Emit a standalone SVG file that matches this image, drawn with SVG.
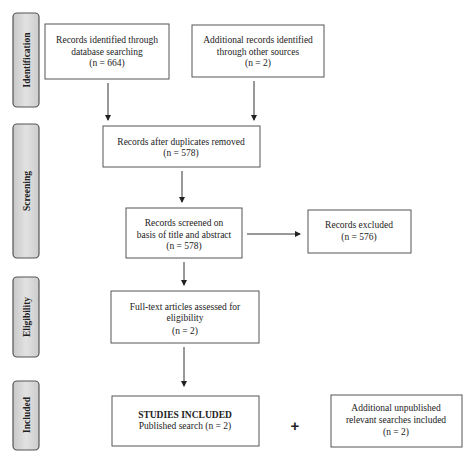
<svg xmlns="http://www.w3.org/2000/svg" width="474" height="467" viewBox="0 0 474 467">
<defs>
<marker id="ah" markerWidth="6" markerHeight="6" refX="5" refY="3" orient="auto" markerUnits="userSpaceOnUse">
<path d="M0,0 L6,3 L0,6 Z" fill="#222"/>
</marker>
<linearGradient id="lg" x1="0" y1="0" x2="1" y2="0">
<stop offset="0" stop-color="#c8c8c8"/>
<stop offset="0.5" stop-color="#e2e2e2"/>
<stop offset="1" stop-color="#cccccc"/>
</linearGradient>
</defs>
<style>
.box{fill:#fff;stroke:#555;stroke-width:1}
.lab{fill:url(#lg);stroke:#555;stroke-width:1.2}
.t{font-family:"Liberation Serif",serif;font-size:9.5px;fill:#222;text-anchor:middle}
.b{font-weight:bold}
.lt{font-family:"Liberation Serif",serif;font-size:9.5px;font-weight:bold;fill:#222;text-anchor:middle}
.c{stroke:#333;stroke-width:1;fill:none;marker-end:url(#ah)}
</style>
<rect width="474" height="467" fill="#fff"/>
<g id="lab-identification"><rect class="lab" x="13" y="13" width="26" height="94" rx="4"/><text class="lt" transform="translate(29.5,60) rotate(-90)">Identification</text></g>
<g id="lab-screening"><rect class="lab" x="13" y="124" width="26" height="134" rx="4"/><text class="lt" transform="translate(29.5,191) rotate(-90)">Screening</text></g>
<g id="lab-eligibility"><rect class="lab" x="13" y="277" width="26" height="80" rx="4"/><text class="lt" transform="translate(29.5,317) rotate(-90)">Eligibility</text></g>
<g id="lab-included"><rect class="lab" x="13" y="381" width="26" height="69" rx="4"/><text class="lt" transform="translate(29.5,415) rotate(-90)">Included</text></g>
<g id="n1"><rect class="box" x="45" y="24" width="124" height="55"/><text class="t" x="107" y="43">Records identified through</text><text class="t" x="107" y="55">database searching</text><text class="t" x="107" y="66">(n = 664)</text></g>
<g id="n2"><rect class="box" x="192" y="25" width="132" height="52"/><text class="t" x="258" y="43">Additional records identified</text><text class="t" x="258" y="55">through other sources</text><text class="t" x="258" y="66">(n = 2)</text></g>
<g id="n3"><rect class="box" x="103" y="126" width="157" height="41"/><text class="t" x="181" y="145">Records after duplicates removed</text><text class="t" x="181" y="156">(n = 578)</text></g>
<g id="n4"><rect class="box" x="126" y="208" width="116" height="50"/><text class="t" x="184" y="226">Records screened on</text><text class="t" x="184" y="238">basis of title and abstract</text><text class="t" x="184" y="249">(n = 578)</text></g>
<g id="n5"><rect class="box" x="308" y="210" width="103" height="43"/><text class="t" x="359" y="228">Records excluded</text><text class="t" x="359" y="240">(n = 576)</text></g>
<g id="n6"><rect class="box" x="111" y="291" width="148" height="52"/><text class="t" x="185" y="310">Full-text articles assessed for</text><text class="t" x="185" y="321">eligibility</text><text class="t" x="185" y="334">(n = 2)</text></g>
<g id="n7"><rect class="box" x="112" y="396" width="147" height="50"/><text class="t b" x="185" y="418">STUDIES INCLUDED</text><text class="t" x="185" y="429">Published search (n = 2)</text></g>
<g id="n8"><rect class="box" x="331" y="395" width="131" height="52"/><text class="t" x="396" y="411">Additional unpublished</text><text class="t" x="396" y="423">relevant searches included</text><text class="t" x="396" y="435">(n = 2)</text></g>
<g id="connectors">
<line class="c" x1="108" y1="83" x2="108" y2="120"/>
<line class="c" x1="254" y1="81" x2="254" y2="120"/>
<line class="c" x1="182" y1="171" x2="182" y2="202"/>
<line class="c" x1="247" y1="234" x2="300" y2="234"/>
<line class="c" x1="184" y1="262" x2="184" y2="285"/>
<line class="c" x1="184" y1="347" x2="184" y2="386"/>
</g>
<text x="295" y="431" style="font-family:'Liberation Sans',sans-serif;font-size:15px;font-weight:bold;fill:#222;text-anchor:middle">+</text>
</svg>
